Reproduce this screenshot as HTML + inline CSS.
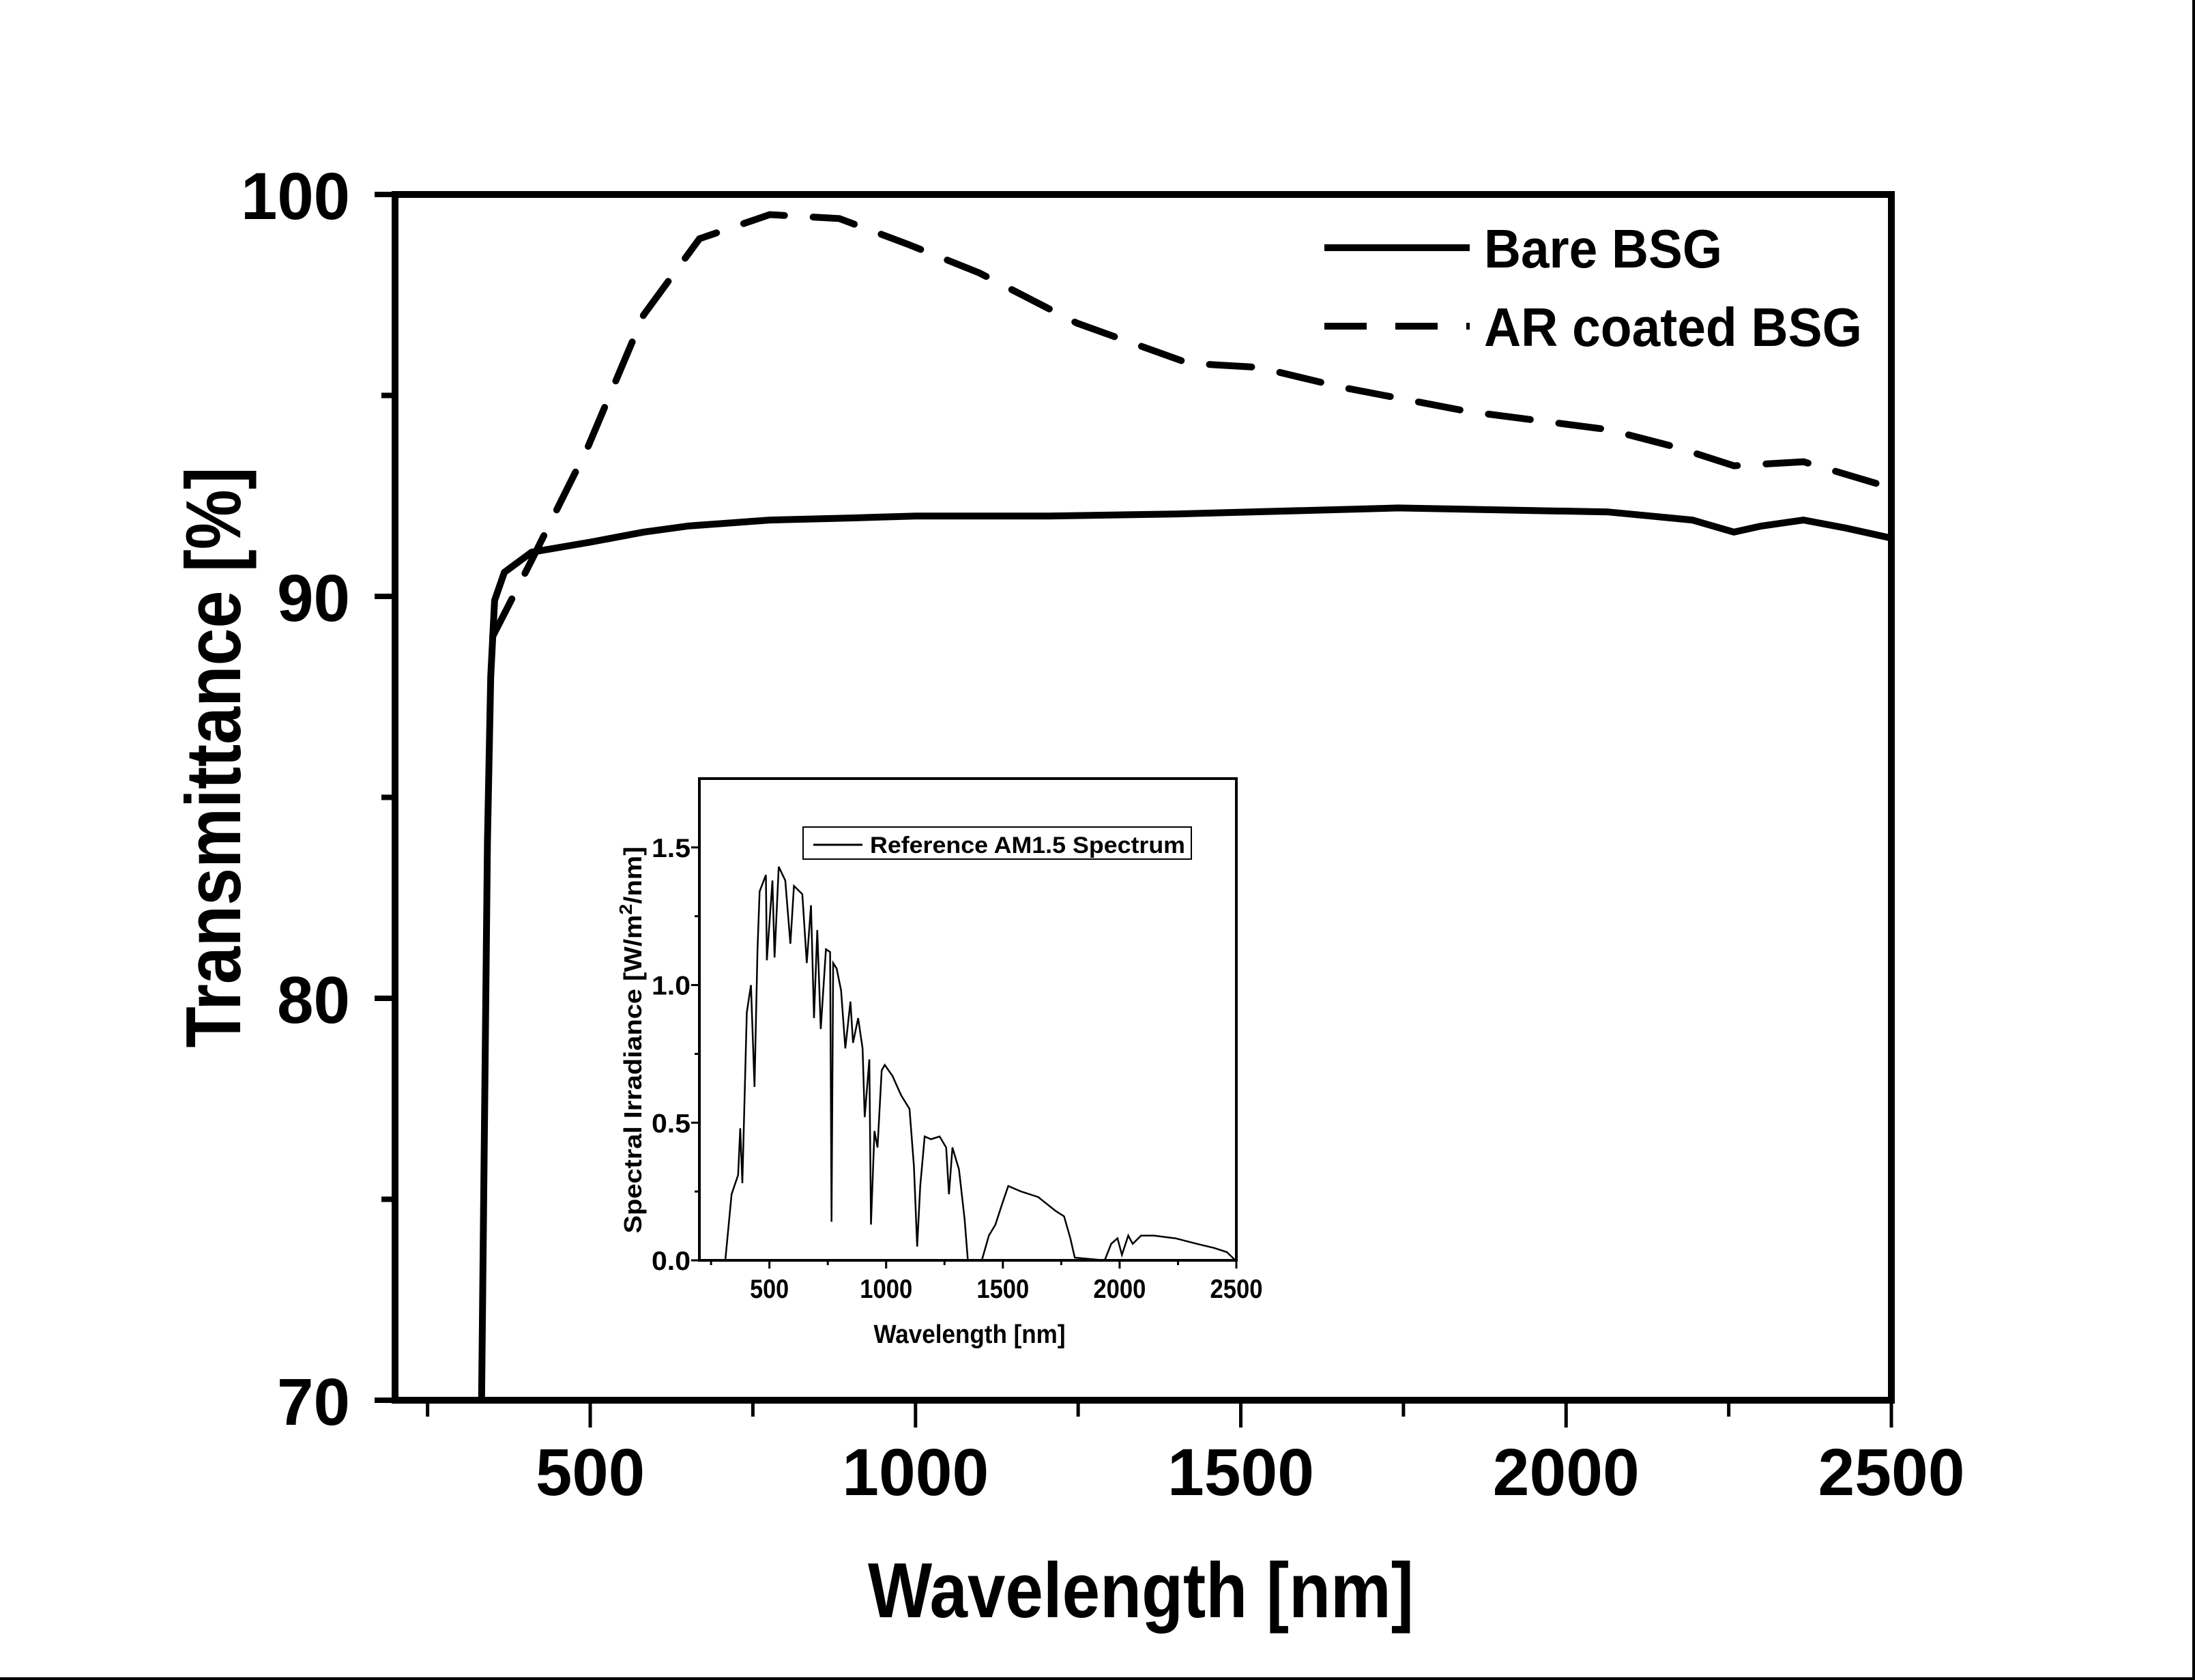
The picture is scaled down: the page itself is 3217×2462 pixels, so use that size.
<!DOCTYPE html>
<html><head><meta charset="utf-8"><style>
html,body{margin:0;padding:0;background:#fff}
svg{display:block}
text{font-family:"Liberation Sans",Arial,sans-serif;font-weight:bold;fill:#000}
</style></head><body>
<svg id="chart" width="3217" height="2462" viewBox="0 0 3217 2462">
<rect x="0" y="0" width="3217" height="2462" fill="#fff"/>
<line x1="0" y1="2460" x2="3217" y2="2460" stroke="#000" stroke-width="4"/>
<line x1="3215" y1="0" x2="3215" y2="2462" stroke="#000" stroke-width="4"/>
<g id="main"></g>
<g id="inset"></g>
</svg>
<script>
// ---- main chart data ----
const bareNm  = [333,342,347,353,368,410,500,582,650,776,900,1000,1205,1400,1742,2065,2194,2258,2300,2365,2430,2500];
const bareT   = [70,83.9,88,89.9,90.6,91.1,91.35,91.6,91.75,91.9,91.95,92.0,92.0,92.05,92.2,92.1,91.9,91.6,91.75,91.9,91.7,91.45];
const arNm    = [350,410,496,582,668,776,883,990,1098,1248,1420,1527,1656,1850,2065,2172,2258,2365,2500];
const arT     = [89,90.9,93.7,97,98.9,99.5,99.4,98.75,98.05,96.8,95.8,95.7,95.2,94.6,94.15,93.7,93.25,93.35,92.7];
const xMajor  = [500,1000,1500,2000,2500];
const xMinor  = [250,750,1250,1750,2250];
const yMajor  = [70,80,90,100];
const yMinor  = [75,85,95];
// ---- inset data (AM1.5) ----
const amNm  = [311,338,366,375,384,403,421,436,449,458,485,489,513,522,540,568,590,605,641,660,678,691,705,720,742,760,766,773,788,807,825,847,858,880,899,908,928,935,950,963,981,994,1027,1064,1100,1119,1133,1146,1165,1192,1229,1257,1269,1284,1312,1336,1350,1410,1413,1440,1468,1495,1523,1578,1651,1725,1762,1789,1808,1936,1964,1991,2010,2037,2056,2092,2147,2239,2331,2404,2459,2496];
const amVal = [0,0.24,0.31,0.48,0.28,0.9,1.0,0.63,1.13,1.34,1.40,1.09,1.38,1.1,1.43,1.38,1.15,1.36,1.33,1.08,1.29,0.88,1.20,0.84,1.13,1.12,0.14,1.08,1.06,0.98,0.77,0.94,0.79,0.88,0.77,0.52,0.73,0.13,0.47,0.41,0.69,0.71,0.67,0.60,0.55,0.34,0.05,0.27,0.45,0.44,0.45,0.41,0.24,0.41,0.33,0.15,0,0,0.01,0.09,0.13,0.2,0.27,0.25,0.23,0.18,0.16,0.08,0.01,0,0.06,0.08,0.02,0.09,0.06,0.09,0.09,0.08,0.06,0.045,0.03,0];
const inXMajor = [500,1000,1500,2000,2500];
const inXMinor = [250,750,1250,1750,2250];
const inYMajor = [0,0.5,1.0,1.5];
const inYMinor = [0.25,0.75,1.25];

const NS="http://www.w3.org/2000/svg";
function mk(parent,tag,attrs,txt){const e=document.createElementNS(NS,tag);for(const k in attrs)e.setAttribute(k,attrs[k]);if(txt!==undefined)e.textContent=txt;parent.appendChild(e);return e;}

const L=579,R=2772,T=285,B=2052, X0=200,X1=2500,Y0=70,Y1=100;
const sx=v=>L+(v-X0)/(X1-X0)*(R-L);
const sy=v=>B-(v-Y0)/(Y1-Y0)*(B-T);
const main=document.getElementById('main');
function pathOf(xs,ys,fx,fy){return xs.map((x,i)=>(i?'L':'M')+fx(x).toFixed(1)+','+fy(ys[i]).toFixed(1)).join(' ');}

let p=mk(main,'path',{d:pathOf(arNm,arT,sx,sy),fill:'none',stroke:'#000','stroke-width':10,'stroke-dasharray':'62,42','stroke-linecap':'round'});


p=mk(main,'path',{d:pathOf(bareNm,bareT,sx,sy),fill:'none',stroke:'#000','stroke-width':10,'stroke-linejoin':'round'});



let fr=mk(main,'rect',{x:L,y:T,width:R-L,height:B-T,fill:'none',stroke:'#000','stroke-width':10});



xMajor.forEach(v=>{let t=mk(main,'line',{x1:sx(v),x2:sx(v),y1:B,y2:B+40,stroke:'#000','stroke-width':5});


let lb=mk(main,'text',{x:sx(v),y:2191,'text-anchor':'middle','font-size':97,textLength:String(v).length>3?215:160,lengthAdjust:'spacingAndGlyphs'},String(v));

});
xMinor.forEach(v=>{let t=mk(main,'line',{x1:sx(v),x2:sx(v),y1:B,y2:B+24,stroke:'#000','stroke-width':5});

});
yMajor.forEach(v=>{let t=mk(main,'line',{x1:L-30,x2:L,y1:sy(v),y2:sy(v),stroke:'#000','stroke-width':8});


let lb=mk(main,'text',{x:513,y:sy(v)+36,'text-anchor':'end','font-size':97,textLength:String(v).length>2?160:107,lengthAdjust:'spacingAndGlyphs'},String(v));

});
yMinor.forEach(v=>{let t=mk(main,'line',{x1:L-20,x2:L,y1:sy(v),y2:sy(v),stroke:'#000','stroke-width':8});

});

let xt=mk(main,'text',{x:1672,y:2370,'text-anchor':'middle','font-size':114,textLength:800,lengthAdjust:'spacingAndGlyphs'},'Wavelength [nm]');


let yt=mk(main,'text',{x:0,y:0,'text-anchor':'middle','font-size':114,textLength:851,lengthAdjust:'spacingAndGlyphs',transform:'translate(352,1110) rotate(-90)'},'Transmittance [%]');



let lg=mk(main,'line',{x1:1941,x2:2154,y1:363,y2:363,stroke:'#000','stroke-width':10});


let lt=mk(main,'text',{x:2175,y:392,'font-size':80,textLength:349,lengthAdjust:'spacingAndGlyphs'},'Bare BSG');


lg=mk(main,'line',{x1:1941,x2:2154,y1:478,y2:478,stroke:'#000','stroke-width':10,'stroke-dasharray':'62,42'});


lt=mk(main,'text',{x:2175,y:507,'font-size':80,textLength:554,lengthAdjust:'spacingAndGlyphs'},'AR coated BSG');



const iL=1025,iR=1812,iT=1141,iB=1847,iX0=200,iX1=2500,iY0=0,iY1=1.75;
const ix=v=>iL+(v-iX0)/(iX1-iX0)*(iR-iL);
const iy=v=>iB-(v-iY0)/(iY1-iY0)*(iB-iT);
const ins=document.getElementById('inset');
p=mk(ins,'path',{d:pathOf(amNm,amVal,ix,iy),fill:'none',stroke:'#000','stroke-width':2.5});


fr=mk(ins,'rect',{x:iL,y:iT,width:iR-iL,height:iB-iT,fill:'none',stroke:'#000','stroke-width':4});


inXMajor.forEach(v=>{let t=mk(ins,'line',{x1:ix(v),x2:ix(v),y1:iB,y2:iB+12,stroke:'#000','stroke-width':3});


let lb=mk(ins,'text',{x:ix(v),y:1902,'text-anchor':'middle','font-size':39,textLength:String(v).length>3?77:57,lengthAdjust:'spacingAndGlyphs'},String(v));

});
inXMinor.forEach(v=>{let t=mk(ins,'line',{x1:ix(v),x2:ix(v),y1:iB,y2:iB+7,stroke:'#000','stroke-width':3});

});
inYMajor.forEach(v=>{let t=mk(ins,'line',{x1:iL-12,x2:iL,y1:iy(v),y2:iy(v),stroke:'#000','stroke-width':3});


let lb=mk(ins,'text',{x:1012,y:iy(v)+14,'text-anchor':'end','font-size':39,textLength:57,lengthAdjust:'spacingAndGlyphs'},v.toFixed(1));

});
inYMinor.forEach(v=>{let t=mk(ins,'line',{x1:iL-7,x2:iL,y1:iy(v),y2:iy(v),stroke:'#000','stroke-width':3});

});
xt=mk(ins,'text',{x:1421,y:1968,'text-anchor':'middle','font-size':38,textLength:281,lengthAdjust:'spacingAndGlyphs'},'Wavelength [nm]');


yt=mk(ins,'text',{x:0,y:0,'text-anchor':'middle','font-size':36,textLength:567,lengthAdjust:'spacingAndGlyphs',transform:'translate(940,1524) rotate(-90)'});


yt.appendChild(document.createTextNode('Spectral Irradiance [W/m'));
mk(yt,'tspan',{dy:-14,'font-size':26},'2');
mk(yt,'tspan',{dy:14},'/nm]');
let lbx=mk(ins,'rect',{x:1177,y:1212,width:569,height:47,fill:'#fff',stroke:'#000','stroke-width':2});


lg=mk(ins,'line',{x1:1192,x2:1264,y1:1238,y2:1238,stroke:'#000','stroke-width':3});


lt=mk(ins,'text',{x:1275,y:1250,'font-size':34,textLength:462,lengthAdjust:'spacingAndGlyphs'},'Reference AM1.5 Spectrum');


</script>
</body></html>
